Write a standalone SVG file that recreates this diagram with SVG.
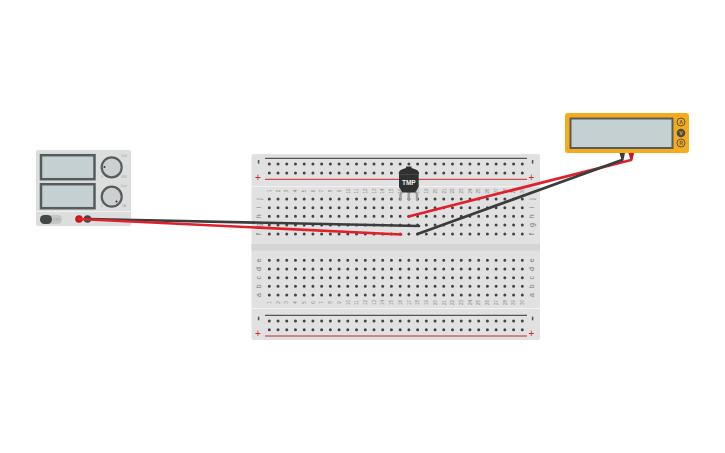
<svg xmlns="http://www.w3.org/2000/svg" width="725" height="453" viewBox="0 0 725 453">
<style>
text{font-family:"Liberation Sans",Arial,sans-serif}
.scr{fill:#c5d0d2;stroke:#555c5c;stroke-width:2.5}
.knob{fill:#cdd0d0;stroke:#5a5d5d;stroke-width:2.2}
.tiny{font-size:3.5px;fill:#a8a8a8;text-anchor:middle}
.holes{fill:none;stroke:#444;stroke-width:3;stroke-linecap:round;stroke-dasharray:0 8.724}
.lab{font-size:4.6px;fill:#8a8a8a;text-anchor:middle}
.let{font-size:7px;fill:#777;text-anchor:middle}
.wire{fill:none;stroke-width:2.7;stroke-linecap:round}
.r{stroke:#e0212b}.k{stroke:#3a3d3f}
.leg{stroke:#9a9e9e;stroke-width:2.4;fill:none;stroke-linecap:round}
.btn{stroke:#555;stroke-width:1;fill:none}
.bt{font-size:5px;fill:#555;text-anchor:middle;font-weight:bold}
</style>
<rect width="725" height="453" fill="#fff"/>
<g id="power-supply">
<rect x="36" y="150" width="95" height="76" rx="2" fill="#dcdddd"/>
<path d="M36 211.500H131" stroke="#f0f0f0" stroke-width="1"/>
<rect class="scr" x="41" y="155.200" width="53.500" height="24"/>
<rect class="scr" x="41" y="184.200" width="53.500" height="24"/>
<circle class="knob" cx="111.700" cy="167.300" r="10"/>
<circle class="knob" cx="111.700" cy="196.700" r="10"/>
<circle cx="104.500" cy="167" r="1" fill="#333"/>
<circle cx="116.500" cy="201.500" r="1" fill="#333"/>
<text class="tiny" x="124" y="157">Volt</text>
<text class="tiny" x="124" y="187">Curr</text>
<text class="tiny" x="102" y="178">0</text>
<text class="tiny" x="124" y="178">30V</text>
<text class="tiny" x="102" y="207">0</text>
<text class="tiny" x="124" y="207">1A</text>
<rect x="40" y="215" width="22" height="9" rx="4.500" fill="#c4c6c6"/>
<rect x="40" y="215" width="12" height="9" rx="4.500" fill="#444747"/>
<text class="tiny" x="56.500" y="221">OFF</text>
<circle cx="79" cy="219" r="3.800" fill="#c8161f"/>
<circle cx="87.500" cy="219" r="3.800" fill="#444747"/>
</g>
<g id="breadboard">
<rect x="251.500" y="154" width="288.500" height="186" rx="2" fill="#e1e1e1"/>
<rect x="251.500" y="244" width="288.500" height="6.500" fill="#d4d4d4"/>
<path d="M251.500 186.500H540M251.500 308.500H540" stroke="#f2f2f2" stroke-width="1"/>
<path d="M265 158.300H527M265 315.300H527" stroke="#333" stroke-width="1"/>
<path d="M265 179.300H527M265 336H527" stroke="#c0282c" stroke-width="1"/>
<path class="holes" d="M269.300 164H523.500M269.300 173H523.500M269.300 199H523.500M269.300 207.700H523.500M269.300 216.300H523.500M269.300 225H523.500M269.300 234H523.500M269.300 260.300H523.500M269.300 269H523.500M269.300 277.700H523.500M269.300 286.300H523.500M269.300 295H523.500M269.300 321H523.500M269.300 329.700H523.500"/>
<g font-size="15" text-anchor="middle">
<text transform="translate(263 161.700) rotate(-90)" fill="#333">-</text><text x="258" y="181" fill="#d42a2a" font-size="10">+</text>
<text transform="translate(536.500 161.700) rotate(-90)" fill="#333">-</text><text x="531.500" y="181" fill="#d42a2a" font-size="10">+</text>
<text transform="translate(263 318.500) rotate(-90)" fill="#333">-</text><text x="258" y="337" fill="#d42a2a" font-size="10">+</text>
<text transform="translate(536.500 318.500) rotate(-90)" fill="#333">-</text><text x="531.500" y="337" fill="#d42a2a" font-size="10">+</text>
</g>
<g class="letters">
<text class="let" transform="translate(260.500 199) rotate(-90)">j</text>
<text class="let" transform="translate(260.500 207.700) rotate(-90)">i</text>
<text class="let" transform="translate(260.500 216.300) rotate(-90)">h</text>
<text class="let" transform="translate(260.500 225) rotate(-90)">g</text>
<text class="let" transform="translate(260.500 234) rotate(-90)">f</text>
<text class="let" transform="translate(260.500 260.300) rotate(-90)">e</text>
<text class="let" transform="translate(260.500 269) rotate(-90)">d</text>
<text class="let" transform="translate(260.500 277.700) rotate(-90)">c</text>
<text class="let" transform="translate(260.500 286.300) rotate(-90)">b</text>
<text class="let" transform="translate(260.500 295) rotate(-90)">a</text>
<text class="let" transform="translate(534 199) rotate(-90)">j</text>
<text class="let" transform="translate(534 207.700) rotate(-90)">i</text>
<text class="let" transform="translate(534 216.300) rotate(-90)">h</text>
<text class="let" transform="translate(534 225) rotate(-90)">g</text>
<text class="let" transform="translate(534 234) rotate(-90)">f</text>
<text class="let" transform="translate(534 260.300) rotate(-90)">e</text>
<text class="let" transform="translate(534 269) rotate(-90)">d</text>
<text class="let" transform="translate(534 277.700) rotate(-90)">c</text>
<text class="let" transform="translate(534 286.300) rotate(-90)">b</text>
<text class="let" transform="translate(534 295) rotate(-90)">a</text>
</g>
<g class="numbers">
<text class="lab" transform="translate(271 191) rotate(-90)">1</text><text class="lab" transform="translate(279.700 191) rotate(-90)">2</text><text class="lab" transform="translate(288.400 191) rotate(-90)">3</text><text class="lab" transform="translate(297.200 191) rotate(-90)">4</text><text class="lab" transform="translate(305.900 191) rotate(-90)">5</text><text class="lab" transform="translate(314.600 191) rotate(-90)">6</text><text class="lab" transform="translate(323.300 191) rotate(-90)">7</text><text class="lab" transform="translate(332.100 191) rotate(-90)">8</text><text class="lab" transform="translate(340.800 191) rotate(-90)">9</text><text class="lab" transform="translate(349.500 191) rotate(-90)">10</text><text class="lab" transform="translate(358.200 191) rotate(-90)">11</text><text class="lab" transform="translate(366.900 191) rotate(-90)">12</text><text class="lab" transform="translate(375.700 191) rotate(-90)">13</text><text class="lab" transform="translate(384.400 191) rotate(-90)">14</text><text class="lab" transform="translate(393.100 191) rotate(-90)">15</text><text class="lab" transform="translate(401.800 191) rotate(-90)">16</text><text class="lab" transform="translate(410.600 191) rotate(-90)">17</text><text class="lab" transform="translate(419.300 191) rotate(-90)">18</text><text class="lab" transform="translate(428 191) rotate(-90)">19</text><text class="lab" transform="translate(436.700 191) rotate(-90)">20</text><text class="lab" transform="translate(445.500 191) rotate(-90)">21</text><text class="lab" transform="translate(454.200 191) rotate(-90)">22</text><text class="lab" transform="translate(462.900 191) rotate(-90)">23</text><text class="lab" transform="translate(471.600 191) rotate(-90)">24</text><text class="lab" transform="translate(480.300 191) rotate(-90)">25</text><text class="lab" transform="translate(489.100 191) rotate(-90)">26</text><text class="lab" transform="translate(497.800 191) rotate(-90)">27</text><text class="lab" transform="translate(506.500 191) rotate(-90)">28</text><text class="lab" transform="translate(515.200 191) rotate(-90)">29</text><text class="lab" transform="translate(524 191) rotate(-90)">30</text>
<text class="lab" transform="translate(271 302.500) rotate(-90)">1</text><text class="lab" transform="translate(279.700 302.500) rotate(-90)">2</text><text class="lab" transform="translate(288.400 302.500) rotate(-90)">3</text><text class="lab" transform="translate(297.200 302.500) rotate(-90)">4</text><text class="lab" transform="translate(305.900 302.500) rotate(-90)">5</text><text class="lab" transform="translate(314.600 302.500) rotate(-90)">6</text><text class="lab" transform="translate(323.300 302.500) rotate(-90)">7</text><text class="lab" transform="translate(332.100 302.500) rotate(-90)">8</text><text class="lab" transform="translate(340.800 302.500) rotate(-90)">9</text><text class="lab" transform="translate(349.500 302.500) rotate(-90)">10</text><text class="lab" transform="translate(358.200 302.500) rotate(-90)">11</text><text class="lab" transform="translate(366.900 302.500) rotate(-90)">12</text><text class="lab" transform="translate(375.700 302.500) rotate(-90)">13</text><text class="lab" transform="translate(384.400 302.500) rotate(-90)">14</text><text class="lab" transform="translate(393.100 302.500) rotate(-90)">15</text><text class="lab" transform="translate(401.800 302.500) rotate(-90)">16</text><text class="lab" transform="translate(410.600 302.500) rotate(-90)">17</text><text class="lab" transform="translate(419.300 302.500) rotate(-90)">18</text><text class="lab" transform="translate(428 302.500) rotate(-90)">19</text><text class="lab" transform="translate(436.700 302.500) rotate(-90)">20</text><text class="lab" transform="translate(445.500 302.500) rotate(-90)">21</text><text class="lab" transform="translate(454.200 302.500) rotate(-90)">22</text><text class="lab" transform="translate(462.900 302.500) rotate(-90)">23</text><text class="lab" transform="translate(471.600 302.500) rotate(-90)">24</text><text class="lab" transform="translate(480.300 302.500) rotate(-90)">25</text><text class="lab" transform="translate(489.100 302.500) rotate(-90)">26</text><text class="lab" transform="translate(497.800 302.500) rotate(-90)">27</text><text class="lab" transform="translate(506.500 302.500) rotate(-90)">28</text><text class="lab" transform="translate(515.200 302.500) rotate(-90)">29</text><text class="lab" transform="translate(524 302.500) rotate(-90)">30</text>
</g>
</g>
<g id="multimeter">
<rect x="565" y="113" width="124" height="40" rx="3" fill="#f5ab1c"/>
<rect x="570.500" y="118.500" width="102" height="29.500" fill="#c5d0d2" stroke="#555c5c" stroke-width="2"/>
<circle class="btn" cx="681" cy="122" r="4"/>
<circle cx="681" cy="133" r="4.300" fill="#4a4a48"/>
<circle class="btn" cx="681" cy="143" r="4"/>
<text class="bt" x="681" y="124">A</text>
<text class="bt" x="681" y="135" style="fill:#f5ab1c">V</text>
<text class="bt" x="681" y="145">R</text>
<path d="M619.500 153H625L623.500 160H621.500Z" fill="#3a3d3f"/>
<path d="M628.500 153H634L632.500 160H630.500Z" fill="#c8161f"/>
</g>
<g id="temperature-sensor">
<path class="leg" d="M403 190L400.500 194V199.500M408.700 190V199.500M414.500 190L417 194V199.500"/>
<path d="M399 173Q399 170 403 169L406 168V166.500H411.500V168L414.500 169Q418.700 170 418.700 173V187L415 192.500H402.500L399 187Z" fill="#2f3131"/>
<path d="M399 174.500H418.700" stroke="#555" stroke-width=".6"/>
<text x="408.800" y="184.500" font-size="6.500" font-weight="bold" fill="#eee" text-anchor="middle">TMP</text>
</g>
<g id="connectors">
<path class="wire k" d="M87.500 219L419 226"/>
<path class="wire r" d="M79 219L401 234.500"/>
<path class="wire r" d="M408.500 216.500L631 160"/>
<path class="wire k" d="M417.500 234L622 160"/>
</g>
</svg>
